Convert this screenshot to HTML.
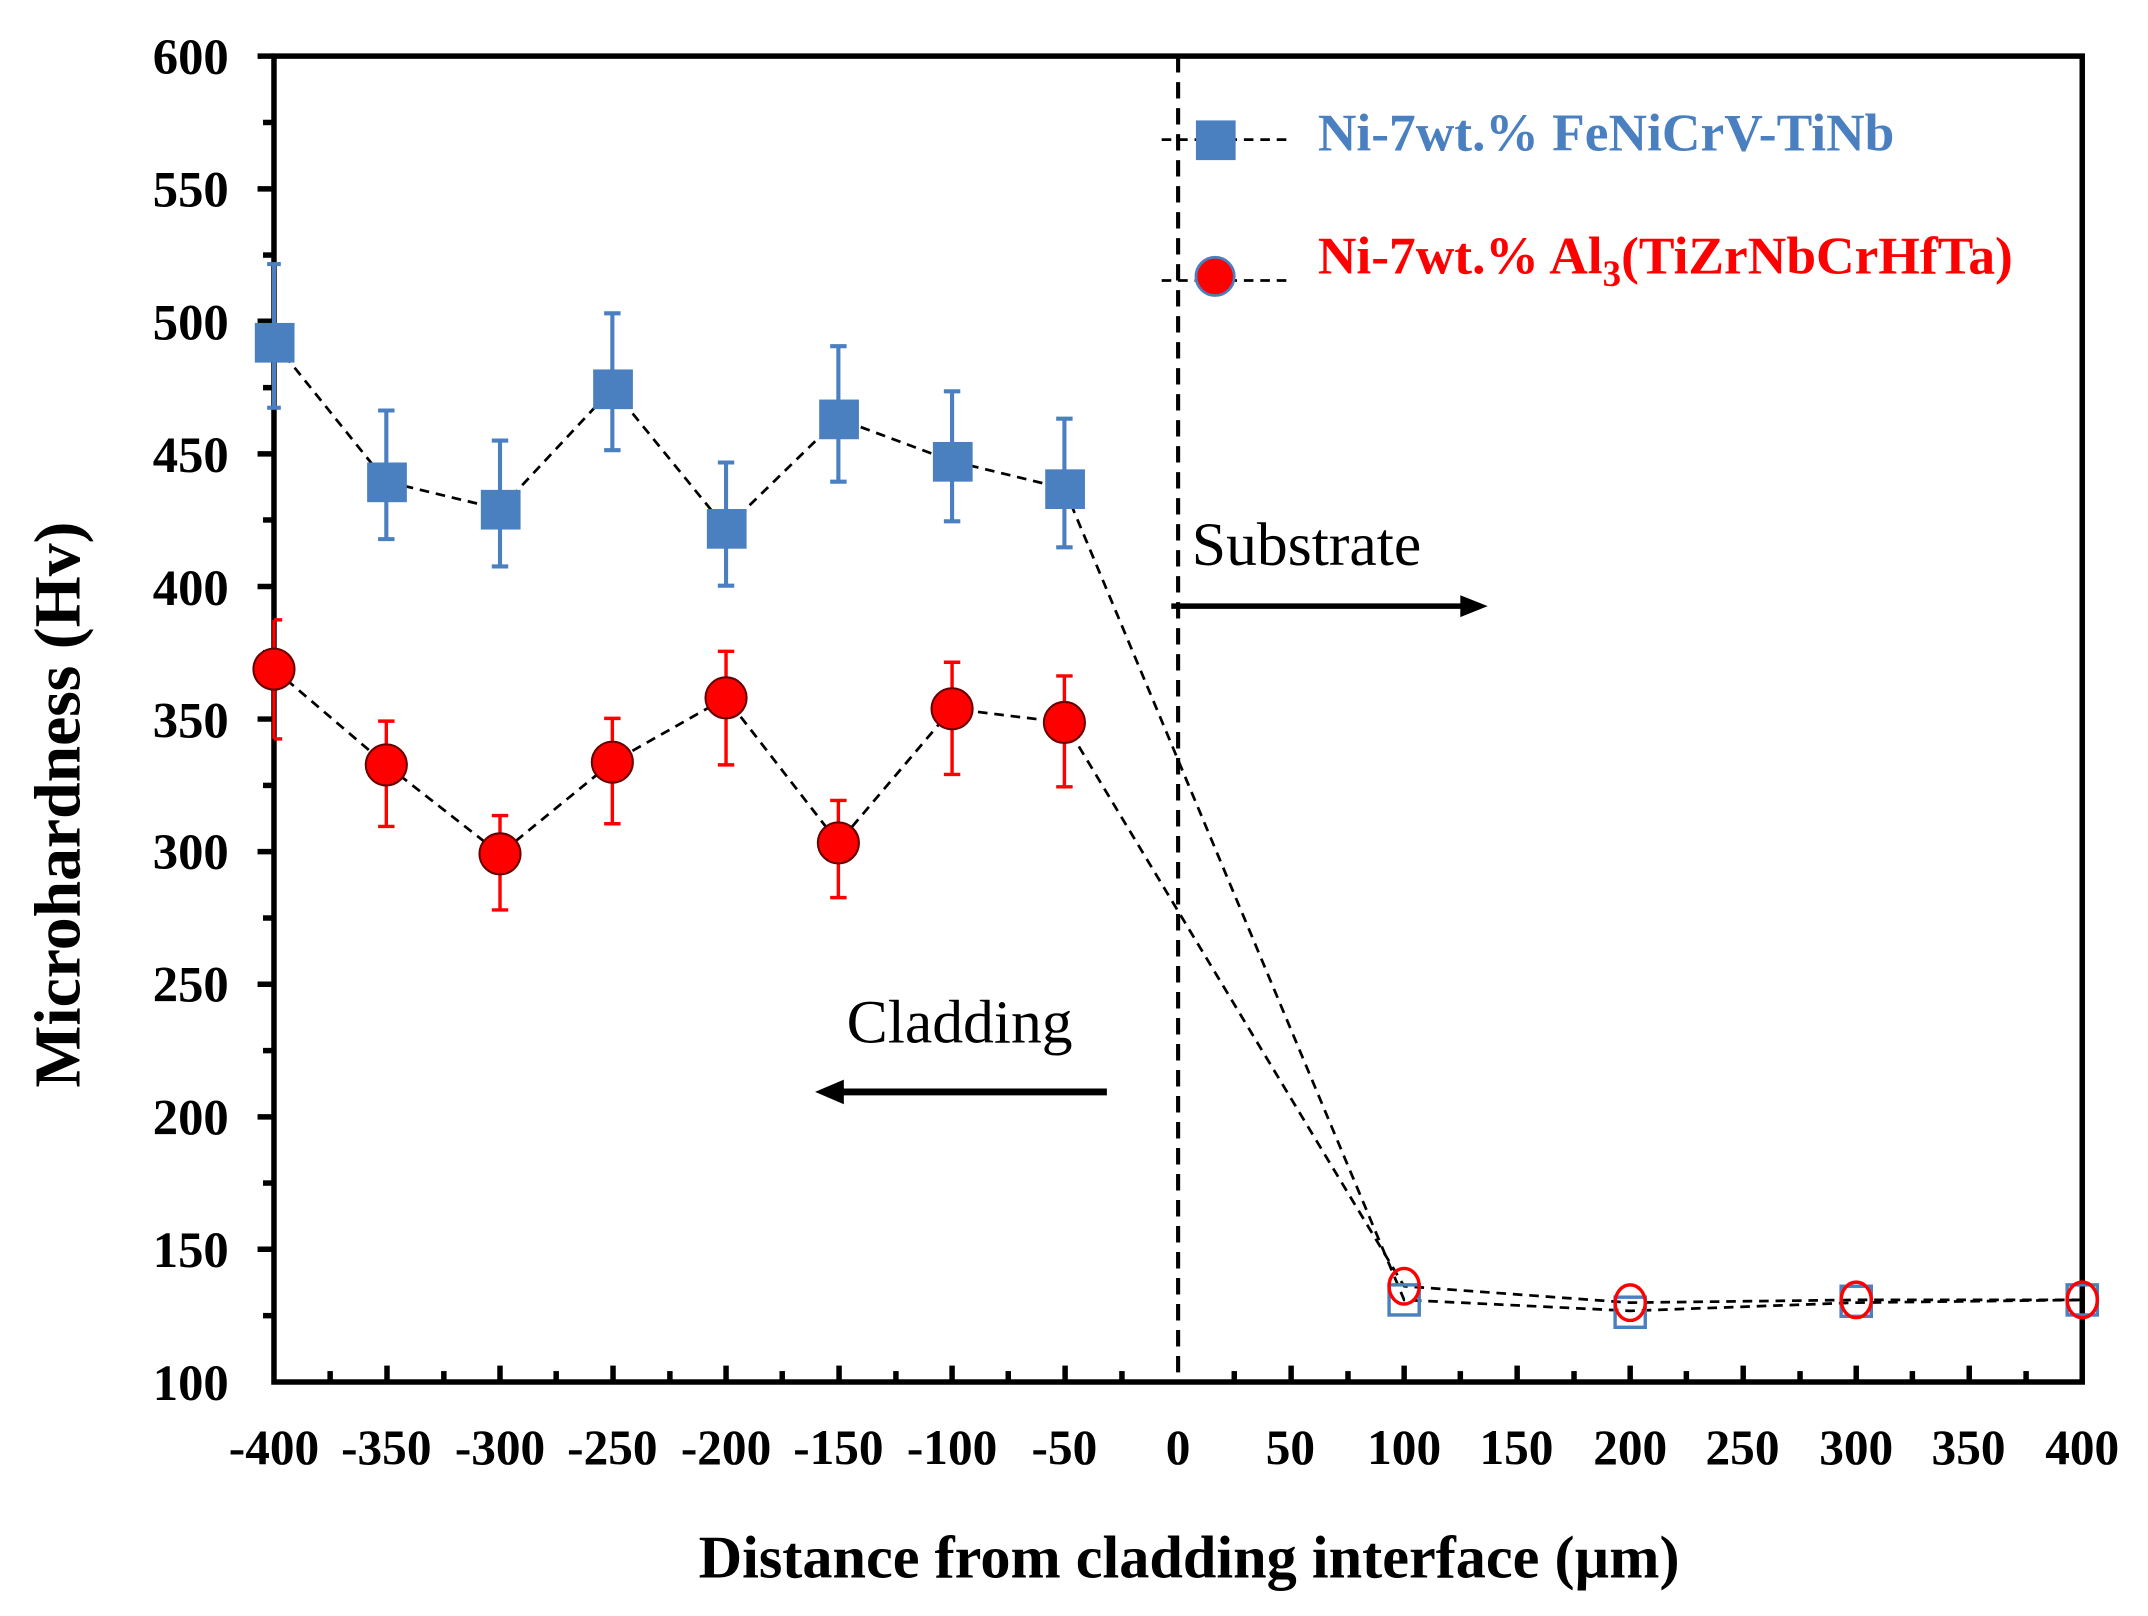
<!DOCTYPE html>
<html><head><meta charset="utf-8"><style>html,body{margin:0;padding:0;background:#fff}svg{display:block}</style></head>
<body>
<svg width="2148" height="1616" viewBox="0 0 1568 1181" preserveAspectRatio="none" xmlns="http://www.w3.org/2000/svg" font-family="Liberation Serif, serif">
<rect width="1568" height="1181" fill="#fff"/>
<g stroke="#000" stroke-width="4" fill="none">
<rect x="200" y="41" width="1320" height="969"/>
</g>
<g stroke="#000" stroke-width="4">
<line x1="188" y1="41" x2="200" y2="41"/><line x1="192" y1="89.5" x2="200" y2="89.5"/>
<line x1="188" y1="138" x2="200" y2="138"/><line x1="192" y1="186.4" x2="200" y2="186.4"/>
<line x1="188" y1="234.8" x2="200" y2="234.8"/><line x1="192" y1="283.3" x2="200" y2="283.3"/>
<line x1="188" y1="331.7" x2="200" y2="331.7"/><line x1="192" y1="380" x2="200" y2="380"/>
<line x1="188" y1="428.6" x2="200" y2="428.6"/><line x1="192" y1="477" x2="200" y2="477"/>
<line x1="188" y1="525.5" x2="200" y2="525.5"/><line x1="192" y1="574" x2="200" y2="574"/>
<line x1="188" y1="622.4" x2="200" y2="622.4"/><line x1="192" y1="670.9" x2="200" y2="670.9"/>
<line x1="188" y1="719.3" x2="200" y2="719.3"/><line x1="192" y1="767.8" x2="200" y2="767.8"/>
<line x1="188" y1="816.2" x2="200" y2="816.2"/><line x1="192" y1="864.6" x2="200" y2="864.6"/>
<line x1="188" y1="913" x2="200" y2="913"/><line x1="192" y1="961.5" x2="200" y2="961.5"/>
</g>
<g stroke="#000" stroke-width="4">
<line x1="241" y1="1010" x2="241" y2="1002"/><line x1="282.5" y1="1010" x2="282.5" y2="998"/>
<line x1="324" y1="1010" x2="324" y2="1002"/><line x1="365" y1="1010" x2="365" y2="998"/>
<line x1="406" y1="1010" x2="406" y2="1002"/><line x1="447.5" y1="1010" x2="447.5" y2="998"/>
<line x1="489" y1="1010" x2="489" y2="1002"/><line x1="530" y1="1010" x2="530" y2="998"/>
<line x1="571" y1="1010" x2="571" y2="1002"/><line x1="612.5" y1="1010" x2="612.5" y2="998"/>
<line x1="654" y1="1010" x2="654" y2="1002"/><line x1="695" y1="1010" x2="695" y2="998"/>
<line x1="736" y1="1010" x2="736" y2="1002"/><line x1="777.5" y1="1010" x2="777.5" y2="998"/>
<line x1="819" y1="1010" x2="819" y2="1002"/>
<line x1="901" y1="1010" x2="901" y2="1002"/><line x1="942.5" y1="1010" x2="942.5" y2="998"/>
<line x1="984" y1="1010" x2="984" y2="1002"/><line x1="1025" y1="1010" x2="1025" y2="998"/>
<line x1="1066" y1="1010" x2="1066" y2="1002"/><line x1="1107.5" y1="1010" x2="1107.5" y2="998"/>
<line x1="1149" y1="1010" x2="1149" y2="1002"/><line x1="1190" y1="1010" x2="1190" y2="998"/>
<line x1="1231" y1="1010" x2="1231" y2="1002"/><line x1="1272.5" y1="1010" x2="1272.5" y2="998"/>
<line x1="1314" y1="1010" x2="1314" y2="1002"/><line x1="1355" y1="1010" x2="1355" y2="998"/>
<line x1="1396" y1="1010" x2="1396" y2="1002"/><line x1="1437.5" y1="1010" x2="1437.5" y2="998"/>
<line x1="1479" y1="1010" x2="1479" y2="1002"/>
</g>
<g font-size="37" font-weight="bold" text-anchor="end">
<text x="167" y="54">600</text><text x="167" y="151">550</text><text x="167" y="248">500</text>
<text x="167" y="345">450</text><text x="167" y="442">400</text><text x="167" y="539">350</text>
<text x="167" y="635">300</text><text x="167" y="732">250</text><text x="167" y="829">200</text>
<text x="167" y="926">150</text><text x="167" y="1023">100</text>
</g>
<g font-size="36" font-weight="bold" text-anchor="middle">
<text x="200" y="1070">-400</text><text x="282" y="1070">-350</text><text x="365" y="1070">-300</text>
<text x="447" y="1070">-250</text><text x="530" y="1070">-200</text><text x="612" y="1070">-150</text>
<text x="695" y="1070">-100</text><text x="777" y="1070">-50</text><text x="860" y="1070">0</text>
<text x="942" y="1070">50</text><text x="1025" y="1070">100</text><text x="1107" y="1070">150</text>
<text x="1190" y="1070">200</text><text x="1272" y="1070">250</text><text x="1355" y="1070">300</text>
<text x="1437" y="1070">350</text><text x="1520" y="1070">400</text>
</g>
<text x="868" y="1153" font-size="44" font-weight="bold" text-anchor="middle">Distance from cladding interface (µm)</text>
<text transform="translate(58,588) rotate(-90)" font-size="48" font-weight="bold" text-anchor="middle">Microhardness (Hv)</text>
<line x1="860" y1="41" x2="860" y2="1010" stroke="#000" stroke-width="3" stroke-dasharray="12,7"/>
<g fill="none" stroke="#000" stroke-width="2" stroke-dasharray="7,5">
<polyline points="200,250 282,352 365,372 447,284 530,386 612,306 695,337 777,357 1025,950 1190,958 1355,952 1520,950"/>
<polyline points="200,489 282,559 365,624 447,557 530,510 612,616 695,518 777,528 1025,940 1190,952 1355,950 1520,950"/>
</g>
<g stroke="#4a7fc0" stroke-width="3">
<line x1="200" y1="193" x2="200" y2="298"/><line x1="195" y1="193" x2="205" y2="193"/><line x1="195" y1="298" x2="205" y2="298"/>
<line x1="282" y1="300" x2="282" y2="394"/><line x1="276" y1="300" x2="288" y2="300"/><line x1="276" y1="394" x2="288" y2="394"/>
<line x1="365" y1="322" x2="365" y2="414"/><line x1="359" y1="322" x2="371" y2="322"/><line x1="359" y1="414" x2="371" y2="414"/>
<line x1="447" y1="229" x2="447" y2="329"/><line x1="441" y1="229" x2="453" y2="229"/><line x1="441" y1="329" x2="453" y2="329"/>
<line x1="530" y1="338" x2="530" y2="428"/><line x1="524" y1="338" x2="536" y2="338"/><line x1="524" y1="428" x2="536" y2="428"/>
<line x1="612" y1="253" x2="612" y2="352"/><line x1="606" y1="253" x2="618" y2="253"/><line x1="606" y1="352" x2="618" y2="352"/>
<line x1="695" y1="286" x2="695" y2="381"/><line x1="689" y1="286" x2="701" y2="286"/><line x1="689" y1="381" x2="701" y2="381"/>
<line x1="777" y1="306" x2="777" y2="400"/><line x1="771" y1="306" x2="783" y2="306"/><line x1="771" y1="400" x2="783" y2="400"/>
</g>
<g stroke="#f00" stroke-width="2.5">
<line x1="200" y1="453" x2="200" y2="540"/><line x1="200" y1="453" x2="206" y2="453"/><line x1="200" y1="540" x2="206" y2="540"/>
<line x1="282" y1="527" x2="282" y2="604"/><line x1="276" y1="527" x2="288" y2="527"/><line x1="276" y1="604" x2="288" y2="604"/>
<line x1="365" y1="596" x2="365" y2="665"/><line x1="359" y1="596" x2="371" y2="596"/><line x1="359" y1="665" x2="371" y2="665"/>
<line x1="447" y1="525" x2="447" y2="602"/><line x1="441" y1="525" x2="453" y2="525"/><line x1="441" y1="602" x2="453" y2="602"/>
<line x1="530" y1="476" x2="530" y2="559"/><line x1="524" y1="476" x2="536" y2="476"/><line x1="524" y1="559" x2="536" y2="559"/>
<line x1="612" y1="585" x2="612" y2="656"/><line x1="606" y1="585" x2="618" y2="585"/><line x1="606" y1="656" x2="618" y2="656"/>
<line x1="695" y1="484" x2="695" y2="566"/><line x1="689" y1="484" x2="701" y2="484"/><line x1="689" y1="566" x2="701" y2="566"/>
<line x1="777" y1="494" x2="777" y2="575"/><line x1="771" y1="494" x2="783" y2="494"/><line x1="771" y1="575" x2="783" y2="575"/>
</g>
<g fill="#4a7fc0">
<rect x="186" y="236" width="29" height="29"/><rect x="268" y="338" width="29" height="29"/>
<rect x="351" y="358" width="29" height="29"/><rect x="433" y="270" width="29" height="29"/>
<rect x="516" y="372" width="29" height="29"/><rect x="598" y="292" width="29" height="29"/>
<rect x="681" y="323" width="29" height="29"/><rect x="763" y="343" width="29" height="29"/>
</g>
<g fill="#f00" stroke="#600" stroke-width="1.5">
<circle cx="200" cy="489" r="15"/><circle cx="282" cy="559" r="15"/><circle cx="365" cy="624" r="15"/>
<circle cx="447" cy="557" r="15"/><circle cx="530" cy="510" r="15"/><circle cx="612" cy="616" r="15"/>
<circle cx="695" cy="518" r="15"/><circle cx="777" cy="528" r="15"/>
</g>
<g fill="none" stroke="#4a7fc0" stroke-width="2.5">
<rect x="1014" y="939" width="22" height="22"/><rect x="1179" y="948" width="22" height="22"/>
<rect x="1344" y="940" width="22" height="22"/><rect x="1509" y="939" width="22" height="22"/>
</g>
<g fill="none" stroke="#f00" stroke-width="2.5">
<ellipse cx="1025" cy="940" rx="11" ry="13"/><ellipse cx="1190" cy="952" rx="11" ry="13"/>
<ellipse cx="1355" cy="950" rx="11" ry="13"/><ellipse cx="1520" cy="950" rx="11" ry="13"/>
</g>
<g stroke="#000" stroke-width="2" stroke-dasharray="7,5">
<line x1="848" y1="102" x2="940" y2="102"/><line x1="848" y1="205" x2="940" y2="205"/>
</g>
<rect x="873" y="88" width="29" height="29" fill="#4a7fc0"/>
<circle cx="887" cy="202" r="14" fill="#f00" stroke="#4a7fc0" stroke-width="2"/>
<text x="962" y="110" font-size="39" font-weight="bold" fill="#4a7fc0">Ni-7wt.% FeNiCrV-TiNb</text>
<text x="962" y="200" font-size="39" font-weight="bold" fill="#f00">Ni-7wt.% Al<tspan font-size="27" dy="9">3</tspan><tspan dy="-9">(TiZrNbCrHfTa)</tspan></text>
<text x="870" y="413" font-size="45">Substrate</text>
<line x1="855" y1="443" x2="1070" y2="443" stroke="#000" stroke-width="4"/>
<polygon points="1086,443 1066,435 1066,451" fill="#000"/>
<text x="618" y="762" font-size="45">Cladding</text>
<line x1="808" y1="798" x2="612" y2="798" stroke="#000" stroke-width="5"/>
<polygon points="595,798 616,789 616,807" fill="#000"/>
</svg>
</body></html>
